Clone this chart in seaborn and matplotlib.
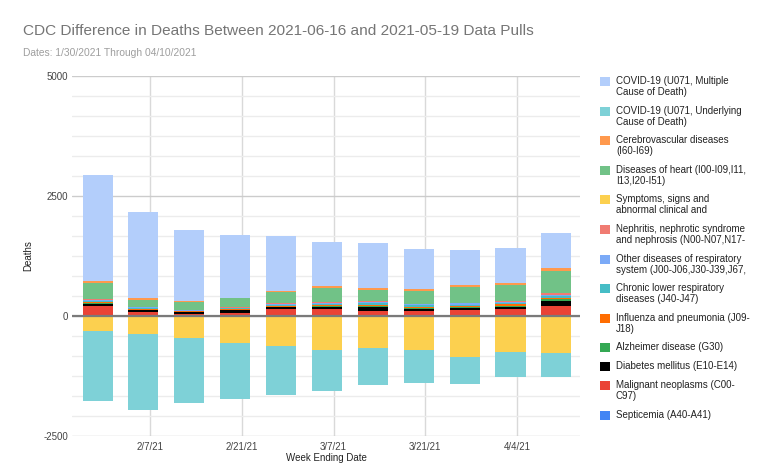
import numpy as np
import pandas as pd
import matplotlib
matplotlib.use("Agg")
import matplotlib.pyplot as plt
import matplotlib.dates as mdates
from matplotlib.patches import Rectangle
from matplotlib.ticker import FixedLocator, MultipleLocator, NullFormatter
import seaborn as sns

# ---------------------------------
# Data
# ---------------------------------

weeks = ["2021-01-30", "2021-02-06", "2021-02-13", "2021-02-20", "2021-02-27", "2021-03-06",
         "2021-03-13", "2021-03-20", "2021-03-27", "2021-04-03", "2021-04-10"]

tick_dates = ["2021-02-07", "2021-02-21", "2021-03-07", "2021-03-21", "2021-04-04"]
tick_labels = ["2/7/21", "2/21/21", "3/7/21", "3/21/21", "4/4/21"]

septicemia = [10, 5, 5, 5, 5, 5, 5, 5, 5, 5, 10]
malignant = [190, 75, 45, 65, 140, 140, 100, 105, 120, 140, 200]
diabetes = [50, 35, 25, 50, 37, 45, 80, 40, 40, 40, 100]
alzheimer = [20, 15, 10, 15, 15, 20, 25, 20, 20, 30, 35]
influenza = [20, 10, 10, 20, 15, 20, 25, 20, 25, 25, 40]
chronic_lower = [20, 20, 15, 10, 25, 25, 30, 35, 25, 25, 30]
other_resp = [25, 20, 15, 10, 15, 20, 25, 15, 35, 20, 30]
nephritis = [20, 10, 10, 10, 15, 20, 15, 20, 10, 25, 25]
symptoms = [-305, -382, -465, -556, -625, -708, -660, -708, -847, -743, -778]
heart = [330, 150, 150, 185, 229, 290, 245, 270, 330, 335, 465]
cerebro = [35, 25, 25, 10, 20, 40, 35, 35, 40, 45, 70]
covid_underlying = [-1458, -1576, -1354, -1167, -1014, -847, -785, -681, -576, -535, -500]
covid_multiple = [2220, 1805, 1490, 1298, 1154, 923, 937, 827, 723, 735, 729]

# stacking order, bottom first
series = [
    ("Septicemia (A40-A41)", septicemia, "#4285F4"),
    ("Malignant neoplasms (C00-\nC97)", malignant, "#EA4335"),
    ("Diabetes mellitus (E10-E14)", diabetes, "#000000"),
    ("Alzheimer disease (G30)", alzheimer, "#34A853"),
    ("Influenza and pneumonia (J09-\nJ18)", influenza, "#FF6D01"),
    ("Chronic lower respiratory\ndiseases (J40-J47)", chronic_lower, "#46BDC6"),
    ("Other diseases of respiratory\nsystem (J00-J06,J30-J39,J67,", other_resp, "#7BAAF7"),
    ("Nephritis, nephrotic syndrome\nand nephrosis (N00-N07,N17-", nephritis, "#F07B72"),
    ("Symptoms, signs and\nabnormal clinical and", symptoms, "#FCD04F"),
    ("Diseases of heart (I00-I09,I11,\nI13,I20-I51)", heart, "#71C287"),
    ("Cerebrovascular diseases\n(I60-I69)", cerebro, "#FF994D"),
    ("COVID-19 (U071, Underlying\nCause of Death)", covid_underlying, "#7ED1D7"),
    ("COVID-19 (U071, Multiple\nCause of Death)", covid_multiple, "#B3CEFB"),
]

# ---------------------------------
# Figure
# ---------------------------------

sns.set_style("white")
plt.rcParams["font.family"] = ["Liberation Sans", "DejaVu Sans"]
plt.rcParams["axes.unicode_minus"] = False

fig = plt.figure(figsize=(7.68, 4.74), dpi=100)
ax = fig.add_axes([72 / 768, 1 - 436 / 474, 508 / 768, 360 / 474])

x = mdates.date2num(pd.to_datetime(weeks))
pos_base = np.zeros(len(weeks))
neg_base = np.zeros(len(weeks))

for name, vals, color in series:
    vals = np.array(vals, dtype=float)
    bottom = np.where(vals >= 0, pos_base, neg_base)
    sns.barplot(
        x=x, y=vals, native_scale=True, color=color, saturation=1,
        width=0.655, errorbar=None, bottom=bottom, linewidth=0, ax=ax
    )
    pos_base += np.clip(vals, 0, None)
    neg_base += np.clip(vals, None, 0)

ax.set_xlim(x[0] - 3.9, x[-1] + 3.6)
ax.set_ylim(-2500, 5000)

ax.xaxis.set_major_locator(FixedLocator(mdates.date2num(pd.to_datetime(tick_dates))))
ax.set_xticklabels(tick_labels)
ax.yaxis.set_major_locator(MultipleLocator(2500))
ax.yaxis.set_minor_locator(MultipleLocator(2500 / 6))
ax.yaxis.set_minor_formatter(NullFormatter())

ax.set_axisbelow(True)
ax.grid(axis="x", which="major", color="#d9d9d9", linewidth=1)
ax.grid(axis="y", which="major", color="#cccccc", linewidth=1)
ax.grid(axis="y", which="minor", color="#ececec", linewidth=1)
ax.axhline(0, color="#7a7a7a", linewidth=1.6, zorder=5)

for s in ax.spines.values():
    s.set_visible(False)
ax.tick_params(axis="both", which="both", length=0, labelsize=7, labelcolor="#444444")
ax.tick_params(axis="x", pad=4)
ax.tick_params(axis="y", pad=3)

ax.set_xlabel("Week Ending Date", fontsize=7, color="#222222", labelpad=1)
ax.set_ylabel("Deaths", fontsize=7, color="#222222")
ax.yaxis.set_label_coords(-0.076, 0.5)

fig.text(23 / 768, 1 - 31 / 474, "CDC Difference in Deaths Between 2021-06-16 and 2021-05-19 Data Pulls",
         fontsize=11.1, color="#757575", va="center", ha="left")
fig.text(23 / 768, 1 - 53 / 474, "Dates: 1/30/2021 Through 04/10/2021",
         fontsize=7.4, color="#9e9e9e", va="center", ha="left")

# ---------------------------------
# Legend (drawn by hand, Google Sheets style)
# ---------------------------------

yc = 81.5
for name, vals, color in series[::-1]:
    fig.add_artist(Rectangle((600 / 768, 1 - (yc + 4.5) / 474), 9.5 / 768, 9 / 474,
                             transform=fig.transFigure, facecolor=color, edgecolor="none"))
    fig.text(616 / 768, 1 - (yc - 5.5) / 474, name, fontsize=7, color="#222222",
             va="top", ha="left", linespacing=1.12)
    nlines = name.count("\n") + 1
    yc += 29.6 if nlines == 2 else 19

fig.savefig("out.png", dpi=100)
